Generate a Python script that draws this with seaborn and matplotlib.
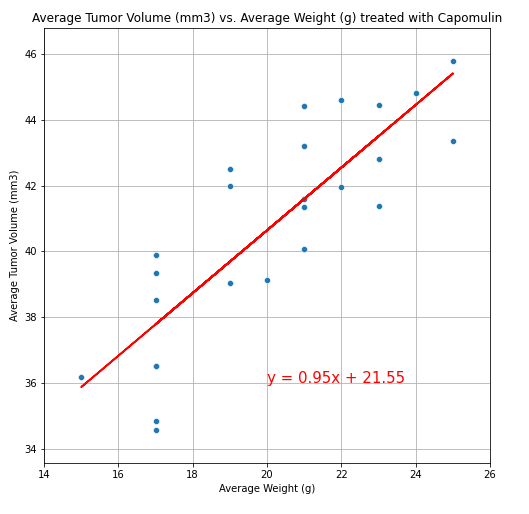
import numpy as np
import pandas as pd
import matplotlib
matplotlib.use("Agg")
import matplotlib.pyplot as plt
import seaborn as sns

# Capomulin: mean tumor volume per mouse vs. mouse weight
weight_g = [22, 21, 17, 19, 22, 24, 20, 23, 21, 21, 19, 17, 19,
            25, 17, 25, 17, 23, 17, 17, 21, 23, 21, 15, 17]
tumor_vol = [41.963636, 40.083699, 36.505973, 41.990097, 44.613344,
             44.805810, 39.141053, 44.465236, 43.216925, 44.434474,
             42.507261, 34.847470, 39.049816, 45.798970, 36.509212,
             43.367364, 34.559143, 42.803733, 39.328725, 39.887495,
             41.581595, 41.384825, 41.352452, 36.182040, 38.506829]

df = pd.DataFrame({'Weight (g)': weight_g, 'Tumor Volume (mm3)': tumor_vol})

slope, intercept = np.polyfit(df['Weight (g)'], df['Tumor Volume (mm3)'], 1)
fit = slope * df['Weight (g)'] + intercept
line_eq = f"y = {round(slope, 2)}x + {round(intercept, 2)}"

fig = plt.figure(figsize=(529 / 72, 514 / 72), dpi=72)
ax = fig.add_axes([44 / 529, 1 - 463 / 514, 446 / 529, 435 / 514])
sns.scatterplot(data=df, x='Weight (g)', y='Tumor Volume (mm3)', ax=ax,
                color='#1f77b4', s=36)
ax.plot(df['Weight (g)'], fit, color='red', linewidth=1.8)
ax.annotate(line_eq, (20, 36), fontsize=15, color='red')

ax.set_xlim(min(weight_g) - 1, max(weight_g) + 1)
ax.set_ylim(min(tumor_vol) - 1, max(tumor_vol) + 1)
ax.set_title('Average Tumor Volume (mm3) vs. Average Weight (g) treated with Capomulin', fontsize=12)
ax.set_xlabel('Average Weight (g)')
ax.set_ylabel('Average Tumor Volume (mm3)')
ax.grid(True)
ax.set_axisbelow(True)

fig.savefig('out.png', dpi=72)
plt.close()
